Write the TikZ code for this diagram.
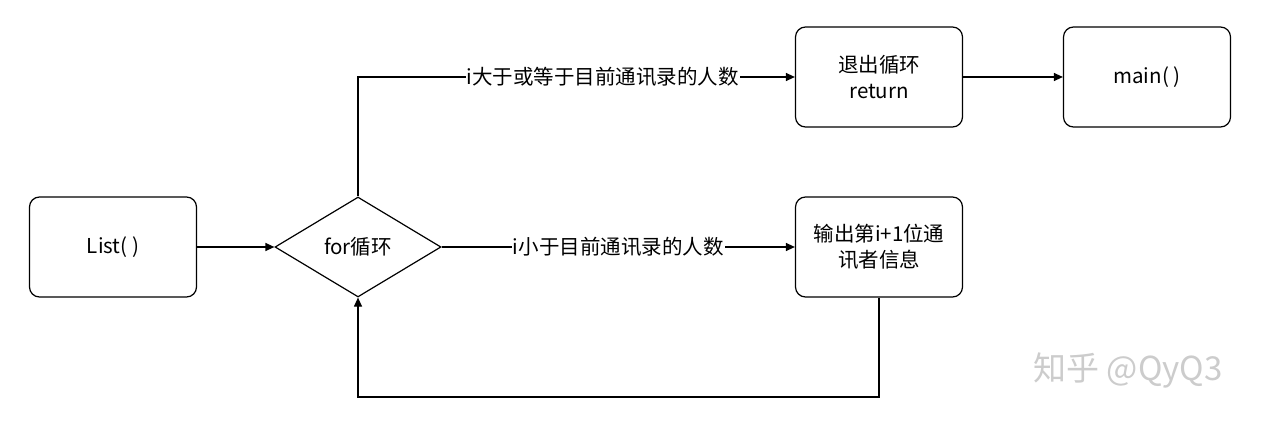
\documentclass[tikz,border=0pt]{standalone}
\usepackage{fontspec}
\setmainfont{Noto Sans CJK SC}
\usetikzlibrary{shapes.geometric,arrows.meta}
\begin{document}
\begin{tikzpicture}[x=1pt,y=-1pt,
  box/.style={draw,line width=1.2pt,rounded corners=10pt,minimum width=167pt,minimum height=100pt,align=center,font=\fontsize{20.5}{26}\selectfont},
  dia/.style={draw,line width=1.2pt,diamond,aspect=1.66,minimum width=166pt,minimum height=100pt,inner sep=0pt,font=\fontsize{20.5}{26}\selectfont},
  arr/.style={line width=1.2pt,-{Triangle[length=9pt,width=8pt]}},
  lab/.style={fill=white,inner sep=1pt,font=\fontsize{20.5}{26}\selectfont}]
\useasboundingbox (0,0) rectangle (1271,425);
\node[box] (list) at (113,247) {List( )};
\node[dia] (for) at (358,247) {for循环};
\node[box] (exit) at (879,77) {退出循环\\return};
\node[box] (main) at (1147,77) {main( )};
\node[box] (out) at (879,247) {输出第i+1位通\\讯者信息};
\coordinate (c1) at (358,397);
\draw[arr] (list) -- (for);
\draw[arr] (for.north) |- node[lab,pos=0.78]{i大于或等于目前通讯录的人数} (exit.west);
\draw[arr] (for.east) -- node[lab,pos=0.5]{i小于目前通讯录的人数} (out.west);
\draw[arr] (exit) -- (main);
\draw[arr] (out.south) |- (c1) -- (for.south);
\node[text=gray!40,font=\fontsize{33}{36}\selectfont] (wm) at (1128,370) {知乎 @QyQ3};
\end{tikzpicture}
\end{document}
